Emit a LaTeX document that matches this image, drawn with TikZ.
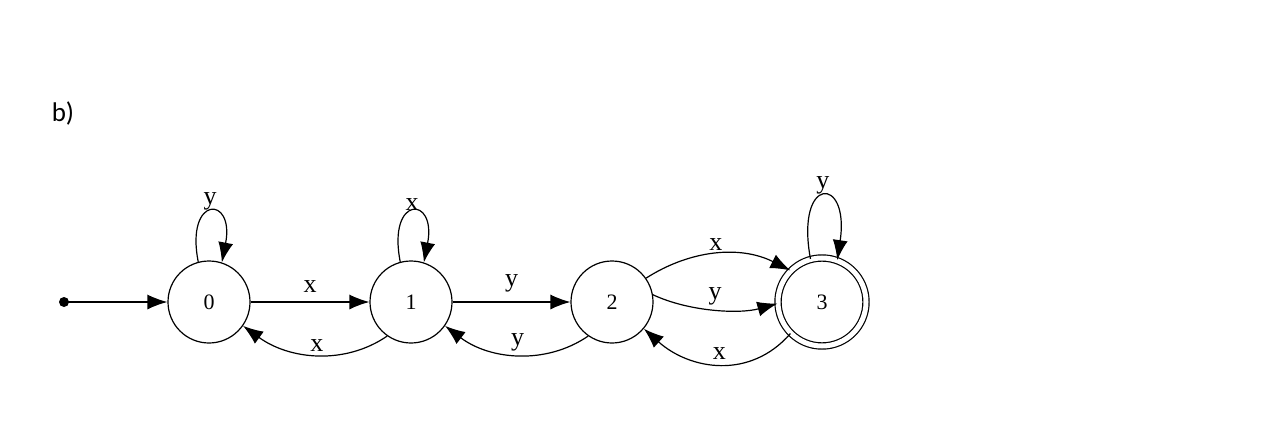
\documentclass[tikz,border=0pt]{standalone}
\usepackage{fontspec}
\setmainfont{Liberation Serif}
\newfontfamily\bfont{Carlito}
\usetikzlibrary{arrows.meta}
\begin{document}
\begin{tikzpicture}[x=1pt,y=-1pt,
  st/.style={circle,draw,line width=1.2pt,minimum size=82pt,inner sep=0pt,font=\fontsize{22}{22}\selectfont},
  lbl/.style={font=\fontsize{26}{26}\selectfont,inner sep=0pt},
  e/.style={line width=1.2pt,-{Latex[length=20pt,width=15pt]}}]
\useasboundingbox (0,0) rectangle (1288,428);
\node[font=\bfont\fontsize{27}{27}\selectfont] (b) at (63,113) {b)};
\node[st] (n0) at (209,302) {0};
\node[st] (n1) at (411,302) {1};
\node[st] (n2) at (612,302) {2};
\node[st,double,double distance=5pt,minimum size=88pt] (n3) at (822,302) {3};
\fill (64,302) circle (5pt);
\coordinate (s) at (64,302);
\draw[e] (s) -- (n0);
\draw[e] (n0) -- node[lbl,above=9pt]{x} (n1);
\draw[e] (n1) -- node[lbl,above=9pt]{y} (n2);
\draw[e] (n1.235) .. controls (345,365) and (290,360) .. node[lbl,above=3pt,pos=0.5]{x} (n0.325);
\draw[e] (n2.235) .. controls (546,365) and (490,360) .. node[lbl,above=3pt,pos=0.5]{y} (n1.325);
\draw[e] (n3.225) .. controls (750,380) and (690,370) .. node[lbl,above=4pt,pos=0.5]{x} (n2.320);
\draw[e] (n2.35) .. controls (690,250) and (740,245) .. node[lbl,above=3pt,pos=0.5]{x} (n3.135);
\draw[e] (n2.10) .. controls (690,312) and (740,314) .. node[lbl,above=4pt,pos=0.5]{y} (n3.182);
\draw[e] (n0.105) .. controls (185,195) and (235,195) .. node[lbl,above=1pt]{y} (n0.72);
\draw[e] (n1.105) .. controls (387,195) and (437,195) .. node[lbl,above=1pt]{x} (n1.72);
\draw[e] (n3.105) .. controls (795,175) and (850,175) .. node[lbl,above=1pt]{y} (n3.70);
\end{tikzpicture}
\end{document}
